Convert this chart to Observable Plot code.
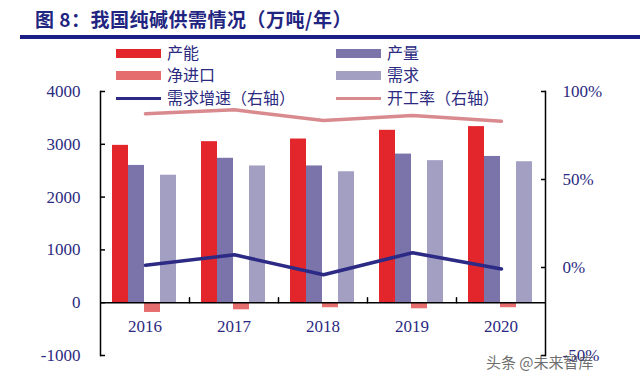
<!DOCTYPE html>
<html><head><meta charset="utf-8">
<script src="https://cdn.jsdelivr.net/npm/d3@7"></script>
<script src="https://cdn.jsdelivr.net/npm/@observablehq/plot@0.6"></script>
<style>
body{margin:0;background:#fff;width:640px;height:378px;overflow:hidden;position:relative;font-family:"Liberation Serif",serif;}
#title{position:absolute;left:35px;top:5px;font:bold 19px "Noto Sans CJK SC",sans-serif;color:#1f2580;white-space:nowrap;letter-spacing:0.5px}
#tline{position:absolute;left:20px;top:35px;width:620px;height:4px;background:#1b1f85}
.layer{position:absolute;left:0;top:0}
.lg{position:absolute;font:16px "Noto Sans CJK SC",sans-serif;color:#2b2a80;white-space:nowrap;line-height:20px}
.sw{position:absolute;width:45px}
#wm{position:absolute;left:486px;top:352px;font:15px "Noto Sans CJK SC",sans-serif;color:#555;white-space:nowrap;opacity:0.85;line-height:20px}
</style></head><body>
<div id="title">图 8：我国纯碱供需情况（万吨/年）</div>
<div id="tline"></div>
<div id="bars" class="layer"></div>
<div id="lines" class="layer"></div>
<div id="legend"></div>
<div id="wm">头条 @未来智库</div>
<script>
const years = ["2016","2017","2018","2019","2020"];
const capacity   = [2980, 3050, 3100, 3265, 3335];
const production = [2600, 2735, 2590, 2815, 2770];
const netImport  = [-185, -135, -95, -115, -95];
const demand     = [2415, 2590, 2480, 2690, 2670];
const demandGrowth = [1.3, 7.2, -4.1, 8.4, -0.8];   // %
const utilization  = [87.3, 89.6, 83.5, 86.3, 83.1]; // %
const leftTicks = [-1000, 0, 1000, 2000, 3000, 4000];
const rightTicks = [-50, 0, 50, 100];

const series = [
  {name:"产能", values:capacity, color:"#e3262c"},
  {name:"产量", values:production, color:"#7a74aa"},
  {name:"净进口", values:netImport, color:"#e56d6e"},
  {name:"需求", values:demand, color:"#a29fc3"}
];
const lineSeries = [
  {name:"需求增速（右轴）", values:demandGrowth, color:"#2c2a85"},
  {name:"开工率（右轴）", values:utilization, color:"#d98a8e"}
];

const W = 640, H = 378, mL = 100, mR = 95, mT = 91, mB = 23;
const band = (W - mL - mR) / years.length;
const barW = 16, barOff = 12;
const tickColor = "#2b2a80";
const stem = {draw(ctx, l){ ctx.moveTo(0, 0); ctx.lineTo(0, -l); }};

const barMarks = series.map((s, k) => Plot.barY(years.map((y, i) => ({year:y, v:s.values[i]})), {
  x:"year", y:"v", fill:s.color,
  insetLeft: barOff + barW*k, insetRight: band - barOff - barW*(k+1)
}));

const p1 = Plot.plot({
  width:W, height:H, marginLeft:mL, marginRight:mR, marginTop:mT, marginBottom:mB,
  style:{background:"transparent", fontFamily:"Liberation Serif, serif", fontSize:"16px", color:tickColor},
  x:{domain:years, padding:0, axis:null},
  y:{domain:[-1000,4000], axis:null},
  marks:[
    ...barMarks,
    Plot.ruleY([0], {stroke:"#000", strokeWidth:1.5}),
    Plot.vector(years.slice(1), {x:d=>d, y:()=>0, length:5, rotate:0, anchor:"start", shape:stem, dx:-band/2, stroke:"#000", strokeWidth:1.5}),
    Plot.text(years, {x:d=>d, y:()=>0, dy:24, text:d=>d, fill:tickColor, fontSize:17, fontFamily:"Liberation Serif, serif"}),
    Plot.frame({anchor:"left", stroke:"#000", strokeWidth:1.5}),
    Plot.axisY(leftTicks, {anchor:"left", label:null, tickSize:-5, tickPadding:25, stroke:"#000", strokeWidth:1.5, fill:tickColor, fontSize:17, tickFormat:d=>String(d)})
  ]
});
document.getElementById("bars").appendChild(p1);

const lineMarks = lineSeries.map(s => Plot.line(years.map((y, i) => ({year:y, v:s.values[i]})), {
  x:"year", y:"v", stroke:s.color, strokeWidth:3.5
}));

const p2 = Plot.plot({
  width:W, height:H, marginLeft:mL, marginRight:mR, marginTop:mT, marginBottom:mB,
  style:{background:"transparent", fontFamily:"Liberation Serif, serif", fontSize:"16px", color:tickColor},
  x:{domain:years, type:"point", padding:0.5, axis:null},
  y:{domain:[-50,100], axis:null},
  marks:[
    ...lineMarks,
    Plot.frame({anchor:"right", stroke:"#000", strokeWidth:1.5}),
    Plot.axisY(rightTicks, {anchor:"right", label:null, tickSize:-5, tickPadding:22, stroke:"#000", strokeWidth:1.5, fill:tickColor, fontSize:17, tickFormat:d=>d+"%"})
  ]
});
document.getElementById("lines").appendChild(p2);

// legend
const lg = document.getElementById("legend");
const items = [
  {...series[0], col:0, row:0, type:"bar"},
  {...series[1], col:1, row:0, type:"bar"},
  {...series[2], col:0, row:1, type:"bar"},
  {...series[3], col:1, row:1, type:"bar"},
  {...lineSeries[0], col:0, row:2, type:"line"},
  {...lineSeries[1], col:1, row:2, type:"line"}
];
const colX = [116, 336], rowY = [53, 75, 98];
items.forEach(it => {
  const sw = document.createElement("div");
  sw.className = "sw";
  const h = it.type === "bar" ? 9 : 3;
  sw.style.left = colX[it.col] + "px";
  sw.style.top = (rowY[it.row] - h/2) + "px";
  sw.style.height = h + "px";
  sw.style.background = it.color;
  lg.appendChild(sw);
  const t = document.createElement("div");
  t.className = "lg";
  t.textContent = it.name;
  t.style.left = (colX[it.col] + 51) + "px";
  t.style.top = (rowY[it.row] - 11) + "px";
  lg.appendChild(t);
});
</script>
</body></html>
